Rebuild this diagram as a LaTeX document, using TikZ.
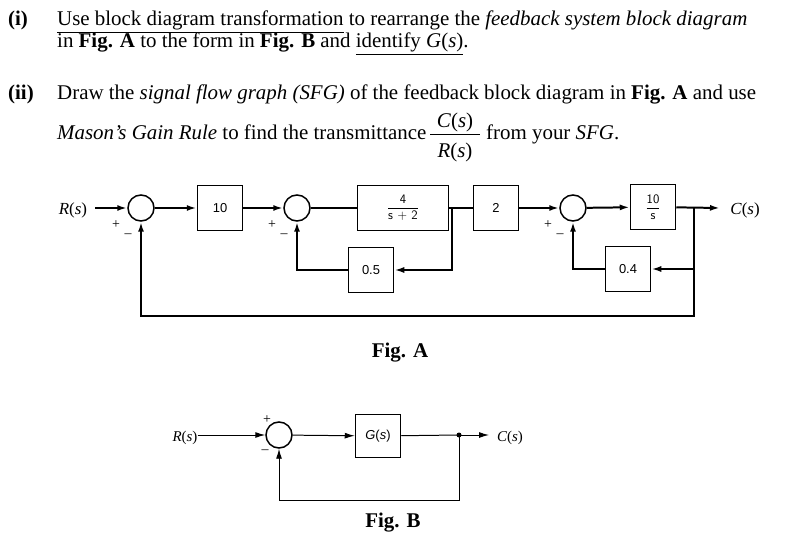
\documentclass[tikz,border=0pt]{standalone}
\usepackage{fontspec}
\setmainfont{Liberation Serif}
\newfontfamily\blockfont{Liberation Sans}
\usetikzlibrary{positioning, arrows.meta}
\tikzset{
	block/.style = {draw, line width = 1.5pt, minimum width = 45bp, minimum height = 45bp, font = \blockfont\fontsize{13}{14}\selectfont},
	sum/.style = {draw, circle, line width = 1.5pt, minimum size = 26bp, inner sep = 0},
	signal/.style = {line width = 2pt, -{Latex[length = 10bp, width = 6bp]}},
	wire/.style = {line width = 2pt},
	sign/.style = {font = \fontsize{14}{14}\selectfont, inner sep = 0},
	para/.style = {anchor = base west, inner sep = 0, font = \fontsize{21}{24}\selectfont},
}
\newcommand{\blockfrac}[2]{$\displaystyle\frac{\textsf{#1}}{\textsf{#2}}$}
\begin{document}
\begin{tikzpicture}[x = 1bp, y = -1bp]
	\useasboundingbox (0, 0) rectangle (812, 547);
	% question text
	\node[para] (qa) at (8, 26) {\textbf{(i)}};
	\node[para] (qa1) at (57, 26) {\underline{Use block diagram transformation} to rearrange the \textit{feedback system block diagram}};
	\node[para] (qa2) at (57, 48) {in \textbf{Fig. A} to the form in \textbf{Fig. B} and \underline{identify \textit{G}(\textit{s})}.};
	\node[para] (qb) at (8, 100) {\textbf{(ii)}};
	\node[para] (qb1) at (57, 100) {Draw the \textit{signal flow graph (SFG)} of the feedback block diagram in \textbf{Fig. A} and use};
	\node[para] (qb2) at (57, 140) {\textit{Mason's Gain Rule} to find the transmittance};
	\node[para, anchor = base] (num) at (455, 128) {\textit{C}(\textit{s})};
	\node[para, anchor = base] (den) at (455, 158) {\textit{R}(\textit{s})};
	\draw[line width = 0.7pt] (430, 134) -- (480, 134);
	\node[para] (qb3) at (486, 140) {from your \textit{SFG}.};

	% Fig. A
	\node[para, anchor = base, font = \fontsize{17}{18}\selectfont] (R) at (73, 215) {\textit{R}(\textit{s})};
	\node[sum] (s1) at (141, 208) {};
	\node[block] (g1) at (220, 208) {10};
	\node[sum] (s2) at (297, 208) {};
	\node[block, minimum width = 91bp] (g2) at (403, 208) {\blockfrac{4}{s + 2}};
	\node[block] (g3) at (496, 208) {2};
	\node[sum] (s3) at (573, 208) {};
	\node[block] (g4) at (653, 207) {\blockfrac{10}{s}};
	\node[block] (h1) at (371, 270) {0.5};
	\node[block] (h2) at (628, 269) {0.4};
	\node[para, anchor = base, font = \fontsize{17}{18}\selectfont] (C) at (745, 215) {\textit{C}(\textit{s})};
	\coordinate (b1) at (452, 208);
	\coordinate (b2) at (694, 208);
	\coordinate (out) at (720, 208);
	\draw[signal] (R.east |- s1) ++(8, 0) -- (s1);
	\draw[signal] (s1) -- (g1);
	\draw[signal] (g1) -- (s2);
	\draw[wire] (s2) -- (g2);
	\draw[wire] (g2) -- (g3);
	\draw[signal] (g3) -- (s3);
	\draw[signal] (s3) -- (g4);
	\draw[signal] (g4) -- (out);
	\draw[signal] (b1) |- (h1);
	\draw[signal] (h1) -| (s2);
	\draw[signal] (b2) |- (h2);
	\draw[signal] (h2) -| (s3);
	\draw[signal] (b2) |- (141, 316) -- (s1);
	\node[sign] (p1) at (116, 225) {+};
	\node[sign] (m1) at (128, 236) {--};
	\node[sign] (p2) at (272, 225) {+};
	\node[sign] (m2) at (284, 236) {--};
	\node[sign] (p3) at (548, 225) {+};
	\node[sign] (m3) at (560, 236) {--};
	\node[para, anchor = base] (figA) at (400, 357) {\textbf{Fig. A}};

	% Fig. B
	\node[para, anchor = base, font = \fontsize{15}{16}\selectfont] (RB) at (185, 441) {\textit{R}(\textit{s})};
	\node[sum] (sB) at (279, 435) {};
	\node[block, minimum height = 43bp] (G) at (378, 436) {\textit{G}(\textit{s})};
	\node[para, anchor = base, font = \fontsize{15}{16}\selectfont] (CB) at (510, 441) {\textit{C}(\textit{s})};
	\coordinate (bB) at (459, 435);
	\coordinate (outB) at (489, 435);
	\draw[signal, line width = 1pt] (RB.east |- sB) -- (sB);
	\draw[signal, line width = 1pt] (sB) -- (G);
	\draw[wire, line width = 1pt] (G) -- (bB);
	\fill (bB) circle (2.5bp);
	\draw[signal, line width = 1pt] (bB) -- (outB);
	\draw[signal, line width = 1pt] (bB) |- (279, 500) -- (sB);
	\node[sign] (pB) at (267, 420) {+};
	\node[sign] (mB) at (265, 452) {--};
	\node[para, anchor = base] (figB) at (393, 527) {\textbf{Fig. B}};
\end{tikzpicture}
\end{document}
